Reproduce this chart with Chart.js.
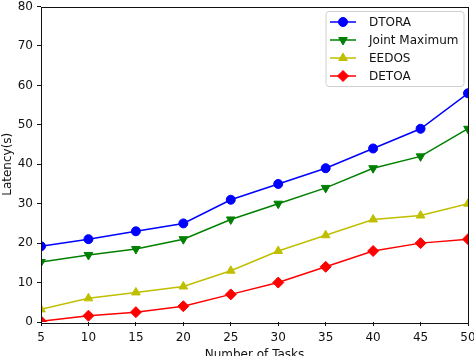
<!DOCTYPE html>
<html>
<head>
<meta charset="utf-8">
<script src="https://cdn.jsdelivr.net/npm/chart.js@4/dist/chart.umd.min.js"></script>
<style>
  html, body { margin: 0; padding: 0; background: #fff; overflow: hidden; width: 474px; height: 356px; }
  #wrap { position: absolute; left: -8px; top: 0; width: 490px; height: 370px; }
</style>
</head>
<body>
<div id="wrap"><canvas id="c" width="490" height="370"></canvas></div>
<script>
const tasks = [5, 10, 15, 20, 25, 30, 35, 40, 45, 50];
const dtora = [19.2, 21, 23, 25, 31, 35, 39, 44, 49, 58];
const jointMaximum = [15.2, 17, 18.5, 21, 26, 30, 34, 39, 42, 49];
const eedos = [3.2, 6, 7.5, 9, 13, 18, 22, 26, 27, 30];
const detoa = [0.2, 1.6, 2.5, 4, 7, 10, 14, 18, 20, 21];
const seriesNames = ['DTORA', 'Joint Maximum', 'EEDOS', 'DETOA'];
const xTicks = [5, 10, 15, 20, 25, 30, 35, 40, 45, 50];
const yTicks = [0, 10, 20, 30, 40, 50, 60, 70, 80];

const FONT = "'DejaVu Sans', sans-serif";
const TXT = '#111';

const styles = [
  { color: '#0000ff', pointStyle: 'circle', rotation: 0, radius: 4.5 },
  { color: '#008000', pointStyle: 'triangle', rotation: 180, radius: 5 },
  { color: '#bfbf00', pointStyle: 'triangle', rotation: 0, radius: 5 },
  { color: '#ff0000', pointStyle: 'rectRot', rotation: 0, radius: 5.5 }
];
const values = [dtora, jointMaximum, eedos, detoa];

const datasets = values.map((vals, i) => ({
  label: seriesNames[i],
  data: tasks.map((t, j) => ({ x: t, y: vals[j] })),
  borderColor: styles[i].color,
  backgroundColor: styles[i].color,
  borderWidth: 1.5,
  pointStyle: styles[i].pointStyle,
  pointRotation: styles[i].rotation,
  pointRadius: styles[i].radius,
  pointBorderWidth: 1,
  pointHoverRadius: styles[i].radius,
  tension: 0,
  clip: 0
}));

function drawMarker(ctx, st, x, y) {
  ctx.save();
  ctx.fillStyle = st.color;
  ctx.strokeStyle = st.color;
  ctx.lineWidth = 1;
  ctx.beginPath();
  const r = st.radius;
  if (st.pointStyle === 'circle') {
    ctx.arc(x, y, r, 0, Math.PI * 2);
  } else if (st.pointStyle === 'triangle') {
    const rot = st.rotation * Math.PI / 180;
    for (let k = 0; k < 3; k++) {
      const a = rot + k * 2 * Math.PI / 3;
      const px = x + Math.sin(a) * r, py = y - Math.cos(a) * r;
      if (k === 0) ctx.moveTo(px, py); else ctx.lineTo(px, py);
    }
  } else {
    ctx.moveTo(x, y - r); ctx.lineTo(x + r, y); ctx.lineTo(x, y + r); ctx.lineTo(x - r, y);
  }
  ctx.closePath();
  ctx.fill();
  ctx.stroke();
  ctx.restore();
}

const framePlugin = {
  id: 'frame',
  afterDraw(chart) {
    const { ctx, chartArea: a } = chart;
    ctx.save();
    ctx.strokeStyle = '#111';
    ctx.lineWidth = 1;
    ctx.strokeRect(Math.round(a.left) + 0.5, Math.round(a.top) + 0.5, Math.round(a.right - a.left), Math.round(a.bottom - a.top));
    // legend
    const w = 138, h = 75;
    const lx = a.right - 4 - w, ly = a.top + 5;
    const rr = 3;
    ctx.beginPath();
    ctx.moveTo(lx + rr, ly);
    ctx.lineTo(lx + w - rr, ly); ctx.arcTo(lx + w, ly, lx + w, ly + rr, rr);
    ctx.lineTo(lx + w, ly + h - rr); ctx.arcTo(lx + w, ly + h, lx + w - rr, ly + h, rr);
    ctx.lineTo(lx + rr, ly + h); ctx.arcTo(lx, ly + h, lx, ly + h - rr, rr);
    ctx.lineTo(lx, ly + rr); ctx.arcTo(lx, ly, lx + rr, ly, rr);
    ctx.closePath();
    ctx.fillStyle = 'rgba(255,255,255,0.85)';
    ctx.fill();
    ctx.strokeStyle = '#d0d0d0';
    ctx.stroke();
    ctx.font = '12px ' + FONT;
    ctx.textBaseline = 'middle';
    ctx.textAlign = 'left';
    seriesNames.forEach((name, i) => {
      const cy = ly + 10.5 + i * 18;
      const st = styles[i];
      ctx.strokeStyle = st.color;
      ctx.lineWidth = 1.5;
      ctx.beginPath();
      ctx.moveTo(lx + 4, cy); ctx.lineTo(lx + 30, cy);
      ctx.stroke();
      drawMarker(ctx, st, lx + 17, cy);
      ctx.fillStyle = TXT;
      ctx.fillText(name, lx + 43, cy + 0.5);
    });
    ctx.restore();
  }
};

new Chart(document.getElementById('c'), {
  type: 'line',
  data: { datasets },
  options: {
    responsive: false,
    animation: false,
    devicePixelRatio: 1,
    layout: { padding: { left: 0, right: 14, top: 5, bottom: 0 } },
    plugins: { legend: { display: false }, tooltip: { enabled: false } },
    scales: {
      x: {
        type: 'linear',
        min: 5, max: 50,
        afterBuildTicks(scale) { scale.ticks = xTicks.map(v => ({ value: v })); },
        afterFit(scale) { scale.height = 48; scale.paddingLeft = 0; scale.paddingRight = 0; },
        grid: { drawOnChartArea: false, drawTicks: true, tickLength: 4, tickColor: '#111', tickWidth: 1 },
        border: { display: false },
        ticks: { color: TXT, font: { family: FONT, size: 12 }, padding: 5, maxRotation: 0, autoSkip: false },
        title: { display: true, text: 'Number of Tasks', color: TXT, font: { family: FONT, size: 12 }, padding: { top: 0, bottom: 8 } }
      },
      y: {
        type: 'linear',
        min: 0, max: 80,
        afterBuildTicks(scale) { scale.ticks = yTicks.map(v => ({ value: v })); },
        afterFit(scale) { scale.width = 49; scale.paddingTop = 0; scale.paddingBottom = 0; },
        grid: { drawOnChartArea: false, drawTicks: true, tickLength: 4, tickColor: '#111', tickWidth: 1 },
        border: { display: false },
        ticks: { color: TXT, font: { family: FONT, size: 12 }, padding: 4 },
        title: { display: true, text: 'Latency(s)', color: TXT, font: { family: FONT, size: 12 }, padding: { top: 8.5, bottom: 0 } }
      }
    }
  },
  plugins: [framePlugin]
});
</script>
</body>
</html>
